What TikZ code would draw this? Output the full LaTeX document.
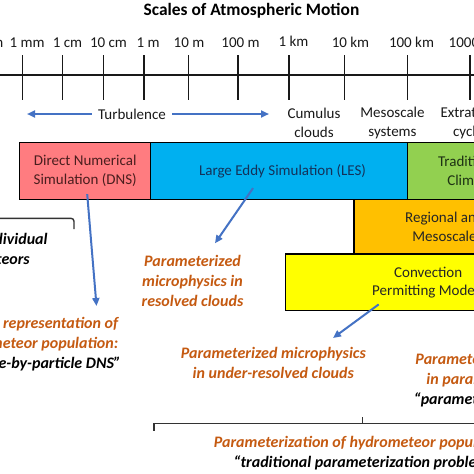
\documentclass[tikz,border=0pt]{standalone}
\usepackage{fontspec}
\setmainfont{Carlito}
\usetikzlibrary{arrows.meta,calc}
\definecolor{dnsred}{HTML}{FF7C80}
\definecolor{lesblue}{HTML}{00B0F0}
\definecolor{climgreen}{HTML}{92D050}
\definecolor{regorange}{HTML}{FFC000}
\definecolor{cpmyellow}{HTML}{FFFF00}
\definecolor{arrblue}{HTML}{4472C4}
\definecolor{txtorange}{HTML}{C55A11}
\definecolor{dnstxt}{HTML}{4A1E1E}
\definecolor{lestxt}{HTML}{14325A}
\definecolor{grtxt}{HTML}{1E3214}
\begin{document}
\begin{tikzpicture}[x=1pt,y=-1pt,
  lab/.style={font=\fontsize{15}{19}\selectfont, text=black!90, inner sep=0pt, align=center},
  modelbox/.style={draw=black, line width=1.4pt, inner sep=0pt, align=center,
    font=\fontsize{15}{18.5}\selectfont, anchor=north west},
  bi/.style={font=\bfseries\itshape\fontsize{16}{20}\selectfont, align=center, inner sep=0pt},
  arr/.style={draw=arrblue, line width=2pt, -{Triangle[length=8pt,width=7pt]}},
  tickline/.style={line width=1.5pt, black!90},
  brk/.style={line width=1.4pt, black!80}]
\useasboundingbox (0,0) rectangle (474,474);
\fill[white] (0,0) rectangle (474,474);
\clip (0,0) rectangle (474,474);

% title
\node[font=\bfseries\fontsize{17.4}{20}\selectfont, anchor=base, inner sep=0pt] (title) at (251.5,15) {Scales of Atmospheric Motion};

% axis
\draw[line width=2pt, black!90] (-5,75) -- (480,75);
\foreach \x in {22.3,62.3,103.3,144,188.3,238,289,344.3,407.3,470}
  \draw[tickline] (\x,55) -- (\x,100);

\node[lab, anchor=base east] (s0) at (3.5,47.5) {1 µm};
\node[lab, anchor=base] (s1) at (27,47.5) {1 mm};
\node[lab, anchor=base] (s2) at (67.5,47.5) {1 cm};
\node[lab, anchor=base] (s3) at (108.5,47.5) {10 cm};
\node[lab, anchor=base] (s4) at (148,47.5) {1 m};
\node[lab, anchor=base] (s5) at (189,47.5) {10 m};
\node[lab, anchor=base] (s6) at (240.5,47.5) {100 m};
\node[lab, anchor=base] (s7) at (293.5,46.5) {1 km};
\node[lab, anchor=base] (s8) at (350.5,47.5) {10 km};
\node[lab, anchor=base] (s9) at (411.5,47.5) {100 km};
\node[lab, anchor=base west] (s10) at (448.5,47.5) {1000 km};

% phenomena
\node[lab, inner xsep=6pt] (turb) at (132,114) {Turbulence};
\coordinate (tl) at (27,114);
\coordinate (tr) at (269,114);
\draw[arr] (turb.west) -- (tl);
\draw[arr] (turb.east) -- (tr);
\node[lab] (cu) at (314,122.5) {Cumulus\\clouds};
\node[lab] (meso) at (392.5,122.5) {Mesoscale\\systems};
\node[lab] (extra) at (479,122.5) {Extratropical\\cyclones};

% model boxes
\node[modelbox, fill=dnsred, text=dnstxt, minimum width=131, minimum height=57] (dns) at (19,141.7) {Direct Numerical\\Simulation (DNS)};
\node[modelbox, fill=lesblue, text=lestxt, minimum width=256.7, minimum height=57] (les) at (150,141.7) {\hspace*{7pt}Large Eddy Simulation (LES)};
\node[modelbox, fill=climgreen, text=grtxt, minimum width=126, minimum height=57] (clim) at (406.7,141.7) {Traditional\\Climate};
\node[modelbox, fill=regorange, text=black!85, minimum width=181, minimum height=54.6] (reg) at (353.3,198.7) {Regional and\\Mesoscale};
\node[modelbox, fill=cpmyellow, text=black!85, minimum width=285, minimum height=56.7] (cpm) at (285,253.3) {Convection\\Permitting Models};

% brackets
\draw[brk, rounded corners=3pt] (-5,218.3) -- (74,218.3) -- (74,229);
\draw[brk] (154,430.7) -- (154,423.3) -- (580,423.3);
\draw[brk] (362.3,423.3) -- (362.3,417.3);

% texts
\node[bi, text=black] (indiv) at (-16.5,250) {Resolved individual\\hydrometeors};
\node[bi, text=txtorange] (dnsrep) at (35,344) {Explicit representation of\\hydrometeor population:\\{\color{black}“particle-by-particle DNS”}};
\node[bi, text=txtorange] (resolved) at (192.5,280.5) {Parameterized\\microphysics in\\resolved clouds};
\node[bi, text=txtorange] (under) at (273.3,363.3) {Parameterized microphysics\\in under-resolved clouds};
\node[bi, text=txtorange] (paramcl) at (508,380) {Parameterized microphysics\\in parameterized clouds:\\{\color{black}“parameterization problem”}};
\node[bi, text=txtorange] (trad) at (365,453) {Parameterization of hydrometeor population:\\{\color{black}“traditional parameterization problem”}};

% arrows
\coordinate (a1e) at (96.5,306);
\coordinate (a2e) at (215,243.3);
\coordinate (a3e) at (333,338);
\draw[arr] ($(dns.south)+(2,-6)$) -- (a1e);
\draw[arr] ($(les.south)+(-26,-12)$) -- (a2e);
\draw[arr] ($(cpm.south)+(-49.5,-7)$) -- (a3e);
\end{tikzpicture}
\end{document}
